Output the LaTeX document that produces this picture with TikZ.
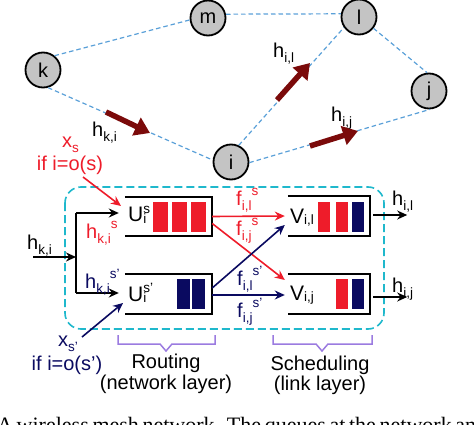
\documentclass[tikz,border=0pt]{standalone}
\usepackage{fontspec}
\setmainfont{Liberation Sans}
\newfontfamily\capfont{Liberation Serif}
\usetikzlibrary{arrows.meta,positioning,calc}

\definecolor{linkblue}{HTML}{5AA0D8}
\definecolor{boxcyan}{HTML}{1FB8CC}
\definecolor{flowred}{HTML}{EE1C2A}
\definecolor{flownavy}{HTML}{0A0A60}
\definecolor{arrowred}{HTML}{7B0A0A}
\definecolor{bracepurple}{HTML}{9B7BE0}
\definecolor{nodegray}{HTML}{C4C4C4}

\newcommand{\sfs}{\fontsize{13.5}{13.5}\selectfont}
\newcommand{\lb}[3]{#1\raisebox{-0.25em}{\sfs #2}\raisebox{0.5em}{\sfs #3}}
\newcommand{\lbs}[3]{{\fontsize{21}{21}\selectfont #1\rlap{\raisebox{-0.05em}{\sfs #2}}\raisebox{0.42em}{\sfs #3}}}

\begin{document}
\begin{tikzpicture}[x=1pt,y=-1pt,
  font=\fontsize{20}{20}\selectfont,
  router/.style={circle,draw,fill=nodegray,line width=1.8pt,minimum size=35pt,inner sep=0pt},
  linkdash/.style={linkblue,dash pattern=on 4.5pt off 3pt,line width=1.2pt},
  loadarrow/.style={arrowred,line width=5.5pt,-{Triangle[length=15pt,width=19pt]}},
  qbox/.style={minimum width=87pt,minimum height=39pt,inner sep=0pt},
  pktbar/.style={minimum width=13pt,minimum height=30pt,inner sep=0pt},
  flowarrow/.style={line width=1.6pt,-{Stealth[length=10pt,width=9pt]}},
  labw/.style={anchor=base west,inner sep=0pt},
  labc/.style={anchor=base,inner sep=0pt},
  purplebrace/.style={bracepurple,line width=1.5pt}]
\useasboundingbox (0,0) rectangle (474,425);

% the mesh network
\node[router] (k) at (43,70) {k};
\node[router] (m) at (208,18) {m};
\node[router] (l) at (359,17) {l};
\node[router] (j) at (429,91) {j};
\node[router] (i) at (231,162) {i};

\draw[linkdash] (k.51) -- (m.186);
\draw[linkdash] (m.12) -- (l.170);
\draw[linkdash] (l.-38) -- (j.96);
\draw[linkdash] (k.-74) -- (i.174);
\draw[linkdash] (i.65) -- (l.215);
\draw[linkdash] (i.-2) -- (j.-87);

\coordinate (ki1) at (106,112); \coordinate (ki2) at (150,133);
\coordinate (il1) at (277,100); \coordinate (il2) at (310,63);
\coordinate (ij1) at (310,146); \coordinate (ij2) at (358,131);
\draw[loadarrow] (ki1) -- (ki2);
\draw[loadarrow] (il1) -- (il2);
\draw[loadarrow] (ij1) -- (ij2);

\node[labw] (hki) at (92,137) {\lb{h}{k,i}{}};
\node[labw] (hil) at (273,58) {\lb{h}{i,l}{}};
\node[labw] (hij) at (331,122) {\lb{h}{i,j}{}};

% queues inside node i
\draw[boxcyan,dash pattern=on 8pt off 4pt,line width=1.6pt,rounded corners=16pt] (65,187) rectangle (384,329);

\node[qbox] (Us) at (168.5,216.5) {};
\node[qbox] (Ut) at (168.5,294) {};
\node[qbox,minimum width=82pt] (Vl) at (329,216) {};
\node[qbox,minimum width=82pt] (Vj) at (329,294) {};
\foreach \q in {Us,Ut,Vl,Vj}
  \draw[line width=1.8pt] (\q.north west) -- (\q.north east) -- (\q.south east) -- (\q.south west);

\foreach \x in {160,179,198}
  \node[pktbar,fill=flowred,minimum width=15pt] (us\x) at (\x,217) {};
\foreach \x in {183,198}
  \node[pktbar,fill=flownavy] (ut\x) at (\x,293.5) {};
\foreach \x in {324,341.5}
  \node[pktbar,fill=flowred,minimum width=12pt] (vl\x) at (\x,216.5) {};
\node[pktbar,fill=flownavy,minimum width=12pt] (vl358) at (358,216.5) {};
\node[pktbar,fill=flowred,minimum width=12pt] (vj341) at (341.5,293.5) {};
\node[pktbar,fill=flownavy,minimum width=12pt] (vj358) at (358,293.5) {};

\node[labw] (uslab) at (128,222) {\lbs{U}{i}{s}};
\node[labw] (utlab) at (128,301) {\lbs{U}{i}{s'}};
\node[labw] (vllab) at (290,223) {\lbs{V}{i,l}{}};
\node[labw] (vjlab) at (290,300) {\lbs{V}{i,j}{}};

% incoming traffic
\coordinate (hin) at (33,257);
\coordinate (fork) at (76,257);
\coordinate (forkup) at (76,213);
\coordinate (forkdn) at (76,293);
\draw[flowarrow] (hin) -- (fork);
\draw[line width=1.6pt] (forkup) -- (forkdn);
\draw[flowarrow,shorten >=6pt] (forkup) -- (forkup -| Us.west);
\draw[flowarrow,shorten >=6pt] (forkdn) -- (forkdn -| Ut.west);
\node[labw] (hin lab) at (27,249) {\lb{h}{k,i}{}};
\node[labw,flowred] (hks) at (86,238) {\lb{h}{k,i}{s}};
\node[labw,flownavy] (hkt) at (85,288) {\lb{h}{k,i}{s'}};

\node[labw,flowred] (xs) at (62,148) {\lb{x}{s}{}};
\node[labc,flowred] (ifs) at (70,171) {if i=o(s)};
\coordinate (xsfrom) at (83,177); \coordinate (xsto) at (121,206);
\draw[flowarrow,flowred] (xsfrom) -- (xsto);
\node[labw,flownavy] (xt) at (58,346) {\lb{x}{s'}{}};
\node[labc,flownavy] (ift) at (67,370) {if i=o(s')};
\coordinate (xtfrom) at (82,337); \coordinate (xtto) at (123,303);
\draw[flowarrow,flownavy] (xtfrom) -- (xtto);

% routing to link queues
\draw[flowarrow,flowred,shorten >=3pt] (Us.east) -- (Vl.west);
\draw[flowarrow,flowred] ($(Us.east)+(0,7)$) -- ($(Vj.west)+(-3,-14)$);
\draw[flowarrow,flownavy] ($(Ut.east)+(0,-6)$) -- ($(Vl.west)+(-3,9)$);
\draw[flowarrow,flownavy] ($(Ut.east)+(0,1)$) -- ($(Vj.west)+(-3,1)$);
\node[labw,flowred] (fsl) at (236,205) {\lb{f}{i,l}{s}};
\node[labw,flowred] (fsj) at (236,235) {\lb{f}{i,j}{s}};
\node[labw,flownavy] (ftl) at (237,285) {\lb{f}{i,l}{s'}};
\node[labw,flownavy] (ftj) at (237,317) {\lb{f}{i,j}{s'}};

% outgoing traffic
\draw[flowarrow] ($(Vl.east)+(3,-1)$) -- ++(34,0);
\draw[flowarrow] ($(Vj.east)+(3,3)$) -- ++(34,0);
\node[labw] (hout l) at (392,205) {\lb{h}{i,l}{}};
\node[labw] (hout j) at (392,292) {\lb{h}{i,j}{}};

% layers
\draw[purplebrace] (118,335) -- (118,344) -- (160,344) -- (166,351) -- (172,344) -- (215,344) -- (215,335);
\draw[purplebrace] (273,335) -- (273,344) -- (316,344) -- (322,351) -- (328,344) -- (372,344) -- (372,335);
\node[labc] (rout) at (166,368) {Routing};
\node[labc] (routl) at (166,389) {(network layer)};
\node[labc] (sched) at (320,370) {Scheduling};
\node[labc] (schedl) at (320,390) {(link layer)};

\node[labw,font=\capfont\fontsize{22}{22}\selectfont] (cap) at (-3,432)
  {\makebox[484pt][s]{A wireless mesh network. The queues at the network and}};
\end{tikzpicture}
\end{document}
